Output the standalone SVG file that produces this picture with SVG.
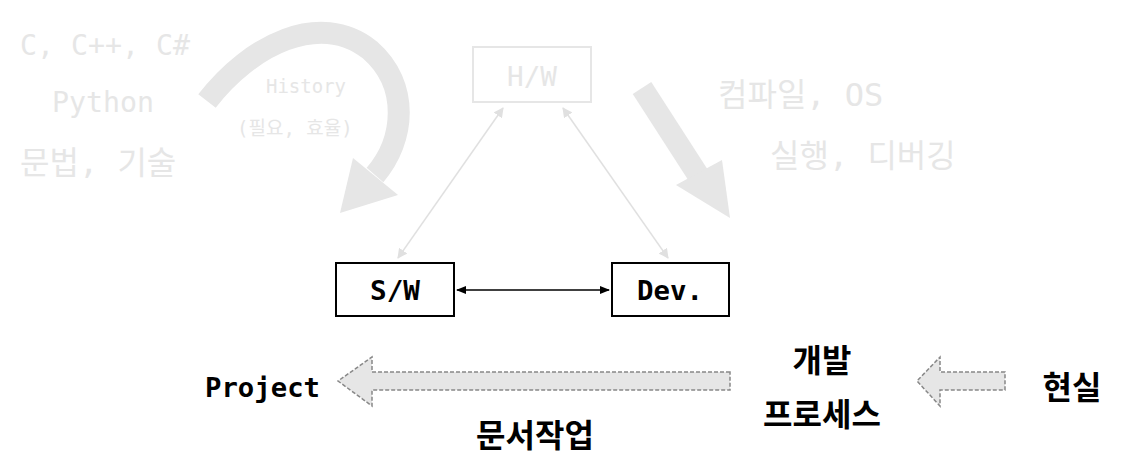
<svg xmlns="http://www.w3.org/2000/svg" width="1128" height="475" viewBox="0 0 1128 475">
<style>
text{font-family:"DejaVu Sans Mono","Noto Sans CJK KR",monospace}
.g{fill:#e6e6e6}
.b{fill:#000;font-weight:bold}
.box{fill:#fff;stroke:#000;stroke-width:2}
.gl{stroke:#e0e0e0;stroke-width:1.5;fill:none}
.fat{fill:#e6e6e6;stroke:#888;stroke-width:1.5;stroke-dasharray:4 2}
</style>
<defs>
<marker id="ga" markerWidth="10" markerHeight="10" refX="9" refY="5" orient="auto-start-reverse" markerUnits="userSpaceOnUse"><path d="M0,0 L10,5 L0,10 Z" fill="#e0e0e0"/></marker>
<marker id="ba" markerWidth="10" markerHeight="10" refX="9" refY="5" orient="auto-start-reverse" markerUnits="userSpaceOnUse"><path d="M0,1 L10,5 L0,9 Z" fill="#000"/></marker>
</defs>
<g id="bg-text">
<text class="g" x="20" y="55" font-size="28" textLength="170" lengthAdjust="spacingAndGlyphs">C, C++, C#</text>
<text class="g" x="52" y="112" font-size="28" textLength="102" lengthAdjust="spacingAndGlyphs">Python</text>
<text class="g" x="20" y="174" font-size="32">문법, 기술</text>
<text class="g" x="266" y="93" font-size="19" textLength="80" lengthAdjust="spacingAndGlyphs">History</text>
<text class="g" x="237" y="135" font-size="19">(필요, 효율)</text>
<text class="g" x="718" y="106" font-size="32">컴파일, OS</text>
<text class="g" x="770" y="167" font-size="32">실행, 디버깅</text>
</g>
<g id="curve-arrow">
<path d="M207,101 C250,45 320,10 370,50 C410,85 405,140 375,175" fill="none" stroke="#e6e6e6" stroke-width="22"/>
<path d="M353,158 L398,195 L340,213 Z" fill="#e6e6e6"/>
</g>
<g id="straight-arrow">
<path d="M642,88 L700,178" stroke="#e6e6e6" stroke-width="22"/>
<path d="M676,185 L722,160 L730,218 Z" fill="#e6e6e6"/>
</g>
<g id="hw"><rect x="473" y="47" width="118" height="55" fill="#fff" stroke="#e6e6e6" stroke-width="2"/><text class="g" x="532" y="86" font-size="26" text-anchor="middle" textLength="50" lengthAdjust="spacingAndGlyphs">H/W</text></g>
<g id="sw"><rect class="box" x="336" y="263" width="118" height="53"/><text class="b" x="395" y="300" font-size="26" text-anchor="middle" textLength="50" lengthAdjust="spacingAndGlyphs">S/W</text></g>
<g id="dev"><rect class="box" x="612" y="263" width="117" height="53"/><text class="b" x="670" y="300" font-size="26" text-anchor="middle" textLength="66" lengthAdjust="spacingAndGlyphs">Dev.</text></g>
<g id="connectors">
<line class="gl" x1="398" y1="258" x2="503" y2="108" marker-start="url(#ga)" marker-end="url(#ga)"/>
<line class="gl" x1="668" y1="258" x2="563" y2="108" marker-start="url(#ga)" marker-end="url(#ga)"/>
<line x1="457" y1="290" x2="609" y2="290" stroke="#000" stroke-width="1.5" marker-start="url(#ba)" marker-end="url(#ba)"/>
</g>
<g id="big-arrow"><path class="fat" d="M730,372 L372,372 L372,357 L338,381 L372,406 L372,390 L730,390 Z"/></g>
<g id="small-arrow"><path class="fat" d="M1005,372 L940,372 L940,357 L917,381 L940,406 L940,390 L1005,390 Z"/></g>
<g id="labels">
<text class="b" x="205" y="397" font-size="26" textLength="115" lengthAdjust="spacingAndGlyphs">Project</text>
<text class="b" x="535" y="447" font-size="32" text-anchor="middle">문서작업</text>
<text class="b" x="822" y="372" font-size="32" text-anchor="middle">개발</text>
<text class="b" x="822" y="426" font-size="32" text-anchor="middle">프로세스</text>
<text class="b" x="1072" y="399" font-size="32" text-anchor="middle">현실</text>
</g>
</svg>
